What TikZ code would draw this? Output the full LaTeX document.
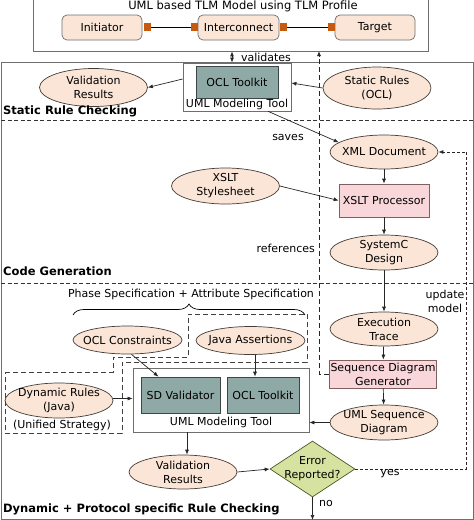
\documentclass[tikz,border=0pt]{standalone}
\usepackage{fontspec}
\setmainfont{DejaVu Sans}
\setsansfont{DejaVu Sans}
\usepackage{tikz}
\usetikzlibrary{shapes.geometric,arrows.meta,decorations.pathreplacing}

\definecolor{peach}{RGB}{251,229,214}
\definecolor{docline}{RGB}{70,60,55}
\definecolor{procfill}{RGB}{249,214,218}
\definecolor{procline}{RGB}{130,95,95}
\definecolor{toolfill}{RGB}{143,170,166}
\definecolor{toolline}{RGB}{60,70,70}
\definecolor{framegray}{RGB}{110,110,110}
\definecolor{decfill}{RGB}{214,227,160}
\definecolor{decline}{RGB}{75,85,40}
\definecolor{portc}{RGB}{197,90,17}

\begin{document}
\begin{tikzpicture}[
    x=1pt, y=-1pt,
    font=\fontsize{11}{14}\selectfont,
    >={Latex[length=5pt,width=4pt]},
    doc/.style={ellipse, draw=docline, fill=peach, line width=0.7pt, minimum width=108pt, minimum height=36pt, inner sep=0pt, label={[align=center]center:#1}},
    module/.style={rectangle, rounded corners=5pt, draw=framegray, fill=peach, line width=0.7pt, minimum width=80pt, minimum height=25pt},
    port/.style={rectangle, fill=portc, minimum size=7.5pt, inner sep=0pt},
    procbox/.style={rectangle, draw=procline, fill=procfill, line width=0.7pt, align=center, inner sep=1pt},
    toolbox/.style={rectangle, draw=toolline, fill=toolfill, line width=0.7pt, inner sep=1pt},
    toolframe/.style={rectangle, draw=framegray, fill=white, line width=0.8pt, inner sep=0pt},
    decision/.style={diamond, draw=decline, fill=decfill, line width=0.7pt, minimum width=85pt, minimum height=56pt, inner sep=0pt, label={[align=center]center:#1}},
    link/.style={draw=black!85, line width=0.7pt, ->},
    feedback/.style={draw=black!85, line width=0.8pt, dash pattern=on 5pt off 3pt, ->},
    sep/.style={draw=black!80, line width=0.9pt, dash pattern=on 4pt off 2.5pt},
    group/.style={draw=black!75, line width=0.8pt, dash pattern=on 5pt off 3pt},
    sectitle/.style={font=\bfseries\fontsize{11.5}{13}\selectfont, anchor=west, inner sep=0pt},
    note/.style={inner sep=1pt, align=center}
]
\useasboundingbox (0,0) rectangle (474,520);

% TLM model on top
\node[draw=framegray, line width=0.8pt, minimum width=395pt, minimum height=64pt, inner sep=0pt] (tlm) at (230.5,19) {};
\node[note, anchor=base, font=\fontsize{11.5}{14}\selectfont] (tlmtitle) at (243,9.5) {UML based TLM Model using TLM Profile};
\node[module] (init) at (102,27.5) {Initiator};
\node[module, minimum width=81pt] (inter) at (238.5,27.5) {Interconnect};
\node[module] (target) at (375,27.5) {Target};
\node[port] (p1) at (147.5,27) {};
\node[port] (p2) at (194.5,27) {};
\node[port] (p3) at (283.5,27) {};
\node[port] (p4) at (331.5,27) {};
\draw[line width=0.7pt] (p1) -- (p2);
\draw[line width=0.7pt] (p3) -- (p4);

% Sections
\draw[framegray, line width=0.8pt] (1,62) rectangle (473,519.5);
\draw[sep] (1,120) -- (473,120);
\draw[sep] (1,283) -- (473,283);

% Static rule checking
\node[toolframe, minimum width=108pt, minimum height=48pt] (umltop) at (237,87) {};
\node[toolbox, minimum width=82pt, minimum height=32pt] (ocltop) at (237,82) {OCL Toolkit};
\node[note] (umltoptext) at (237,104.5) {UML Modeling Tool};
\node[doc={Validation\\Results}, minimum height=38pt] (valtop) at (93.5,87.5) {};
\node[doc={Static Rules\\(OCL)}, minimum height=42pt] (static) at (377,88) {};
\draw[link] ([yshift=8pt]umltop.west) -- (valtop.east);
\draw[link] (static.west) -- ([yshift=4pt]umltop.east);
\draw[link, <->] ([xshift=-5pt]umltop.north) -- ([xshift=-5pt]umltop.north |- tlm.south);
\node[note] (validates) at (266,57) {validates};
\node[sectitle] (sec1) at (3,111) {Static Rule Checking};

% Code generation
\node[doc={XML Document}, minimum height=34pt] (xml) at (384,152) {};
\node[procbox, minimum width=90pt, minimum height=33pt] (xsltproc) at (384,200.5) {XSLT Processor};
\node[doc={XSLT\\Stylesheet}] (stylesheet) at (225.5,186) {};
\node[doc={SystemC\\Design}, minimum height=35pt] (systemc) at (384,252.5) {};
\draw[link] (umltop.-38) -- (xml.168);
\node[note] (saves) at (288,137) {saves};
\draw[link] (xml) -- (xsltproc);
\draw[link] (stylesheet.east) -- (xsltproc.west);
\draw[link] (xsltproc) -- (systemc);
\node[sectitle] (sec2) at (3,271) {Code Generation};

% Trace and sequence diagram
\node[doc={Execution\\Trace}, minimum height=34pt] (exec) at (384,329) {};
\node[procbox, minimum width=104pt, minimum height=28pt] (seqgen) at (383,374) {Sequence Diagram\\Generator};
\node[doc={UML Sequence\\Diagram}, minimum height=35pt] (umlseq) at (384,422.5) {};
\draw[link] (systemc) -- (exec);
\draw[link] (exec) -- (seqgen);
\draw[link] (seqgen) -- (umlseq);

% Feedback paths
\coordinate (fbtop) at (319,51);
\draw[feedback] (seqgen.west) -| (fbtop);
\node[note, anchor=east] (references) at (316,248) {references};
\node[note] (update) at (445,301.5) {update\\model};

% Dynamic rule checking
\node[toolframe, minimum width=176pt, minimum height=64pt] (umlbot) at (221,400) {};
\node[toolbox, minimum width=79pt, minimum height=36pt] (sdval) at (180.5,395) {SD Validator};
\node[toolbox, minimum width=72pt, minimum height=36pt] (oclbot) at (263,395) {OCL Toolkit};
\node[note] (umlbottext) at (221,422) {UML Modeling Tool};
\draw[link] (umlseq.west) -- (umlseq.west -| umlbot.east);

\node[note] (spec) at (191,294.5) {Phase Specification + Attribute Specification};
\draw[line width=0.7pt, decorate, decoration={brace, amplitude=11pt}] (73,315) -- (305,315);
\node[doc={OCL Constraints}, minimum width=109pt, minimum height=28pt] (oclc) at (127.5,340) {};
\node[doc={Java Assertions}, minimum width=109pt, minimum height=28pt] (java) at (250.5,340.5) {};
\draw[link] ([xshift=4pt]oclc.south) -- ([xshift=-22pt]sdval.north);
\draw[link] ([xshift=4.5pt]java.south) -- ([xshift=-8pt]oclbot.north);

\node[doc={Dynamic Rules\\(Java)}, minimum height=35pt] (dynrules) at (59,400.5) {};
\node[note] (unified) at (62,425) {(Unified Strategy)};
\draw[link] ([yshift=2pt]dynrules.east) -- ([yshift=2pt]dynrules.east -| umlbot.west);
\draw[group] (5,372) -- (113,372) -- (113,357) -- (188,357) -- (188,314) -- (307,314) -- (307,362) -- (122,362) -- (122,433) -- (5,433) -- cycle;

\node[doc={Validation\\Results}, minimum height=34pt] (valbot) at (183,472) {};
\node[decision={Error\\Reported?}] (err) at (312.5,469) {};
\draw[link] ([xshift=4pt]valbot.north |- umlbot.south) -- ([xshift=4pt]valbot.north);
\draw[link] (valbot.east) -- (err.west);
\coordinate (noend) at (312.5,520);
\draw[link] (err.south) -- (noend);
\node[note] (no) at (326,503) {no};
\coordinate (yescorner) at (466.5,469);
\draw[feedback, dash pattern=on 3pt off 2pt] (err.east) -- (yescorner) |- (xml.east);
\node[note] (yes) at (390,474) {yes};
\node[sectitle] (sec3) at (3,509) {Dynamic + Protocol specific Rule Checking};

\end{tikzpicture}
\end{document}
